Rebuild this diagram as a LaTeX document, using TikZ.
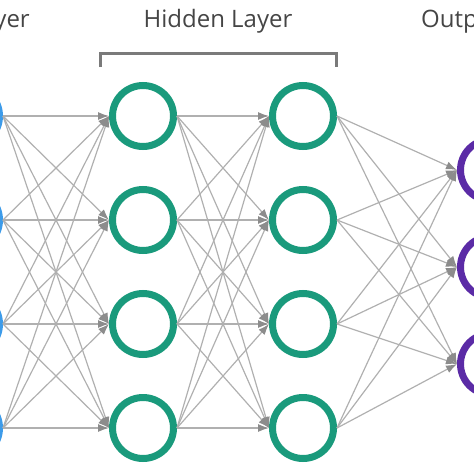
\documentclass[tikz,border=0pt]{standalone}
\usepackage{fontspec}
\setmainfont{Open Sans}
\usetikzlibrary{arrows.meta}
\definecolor{incol}{HTML}{3D9BE9}
\definecolor{hidcol}{HTML}{1A9A7C}
\definecolor{outcol}{HTML}{5B2BA6}
\definecolor{edgecol}{HTML}{B0B0B0}
\definecolor{tipcol}{HTML}{8C8C8C}
\definecolor{textcol}{HTML}{454545}
\definecolor{brackcol}{HTML}{7A7A7A}

\begin{document}
\begin{tikzpicture}[x=1pt, y=-1pt,
	neuron/.style={circle, line width=7pt, minimum size=61pt, inner sep=0pt, fill=white},
	edge/.style={edgecol, line width=1.2pt, -{Latex[length=11pt, width=8pt, color=tipcol]}},
	title/.style={text=textcol, font=\fontsize{24}{28}\selectfont, inner sep=0pt}]
	\useasboundingbox (0,0) rectangle (474,474);
	\clip (0,0) rectangle (474,474);

%titles
	\node[title, anchor=base east] (tin) at (30, 27) {Input Layer};
	\node[title, anchor=base] (thid) at (218, 27) {Hidden Layer};
	\node[title, anchor=base west] (tout) at (421, 27) {Output Layer};

%bracket
	\draw[brackcol, line width=3pt] (100, 67) -- (100, 53) -- (336, 53) -- (336, 67);

%neurons
	\foreach \y / \name in {116/I1, 220/I2, 324/I3, 428/I4}{
		\node[neuron, draw=incol] (\name) at (-31, \y) {};
	}
	\foreach \y / \name in {116/A1, 220/A2, 324/A3, 428/A4}{
		\node[neuron, draw=hidcol] (\name) at (143, \y) {};
	}
	\foreach \y / \name in {116/B1, 220/B2, 324/B3, 428/B4}{
		\node[neuron, draw=hidcol] (\name) at (303, \y) {};
	}
	\foreach \y / \name in {170/O1, 267/O2, 364/O3}{
		\node[neuron, draw=outcol] (\name) at (491, \y) {};
	}

%weights
	\foreach \a in {I1, I2, I3, I4}{
		\foreach \b in {A1, A2, A3, A4}{
			\draw[edge] (\a.east) -- (\b.west);
		}
	}
	\foreach \a in {A1, A2, A3, A4}{
		\foreach \b in {B1, B2, B3, B4}{
			\draw[edge] (\a.east) -- (\b.west);
		}
	}
	\foreach \a in {B1, B2, B3, B4}{
		\foreach \b in {O1, O2, O3}{
			\draw[edge] (\a.east) -- (\b.west);
		}
	}
\end{tikzpicture}
\end{document}
